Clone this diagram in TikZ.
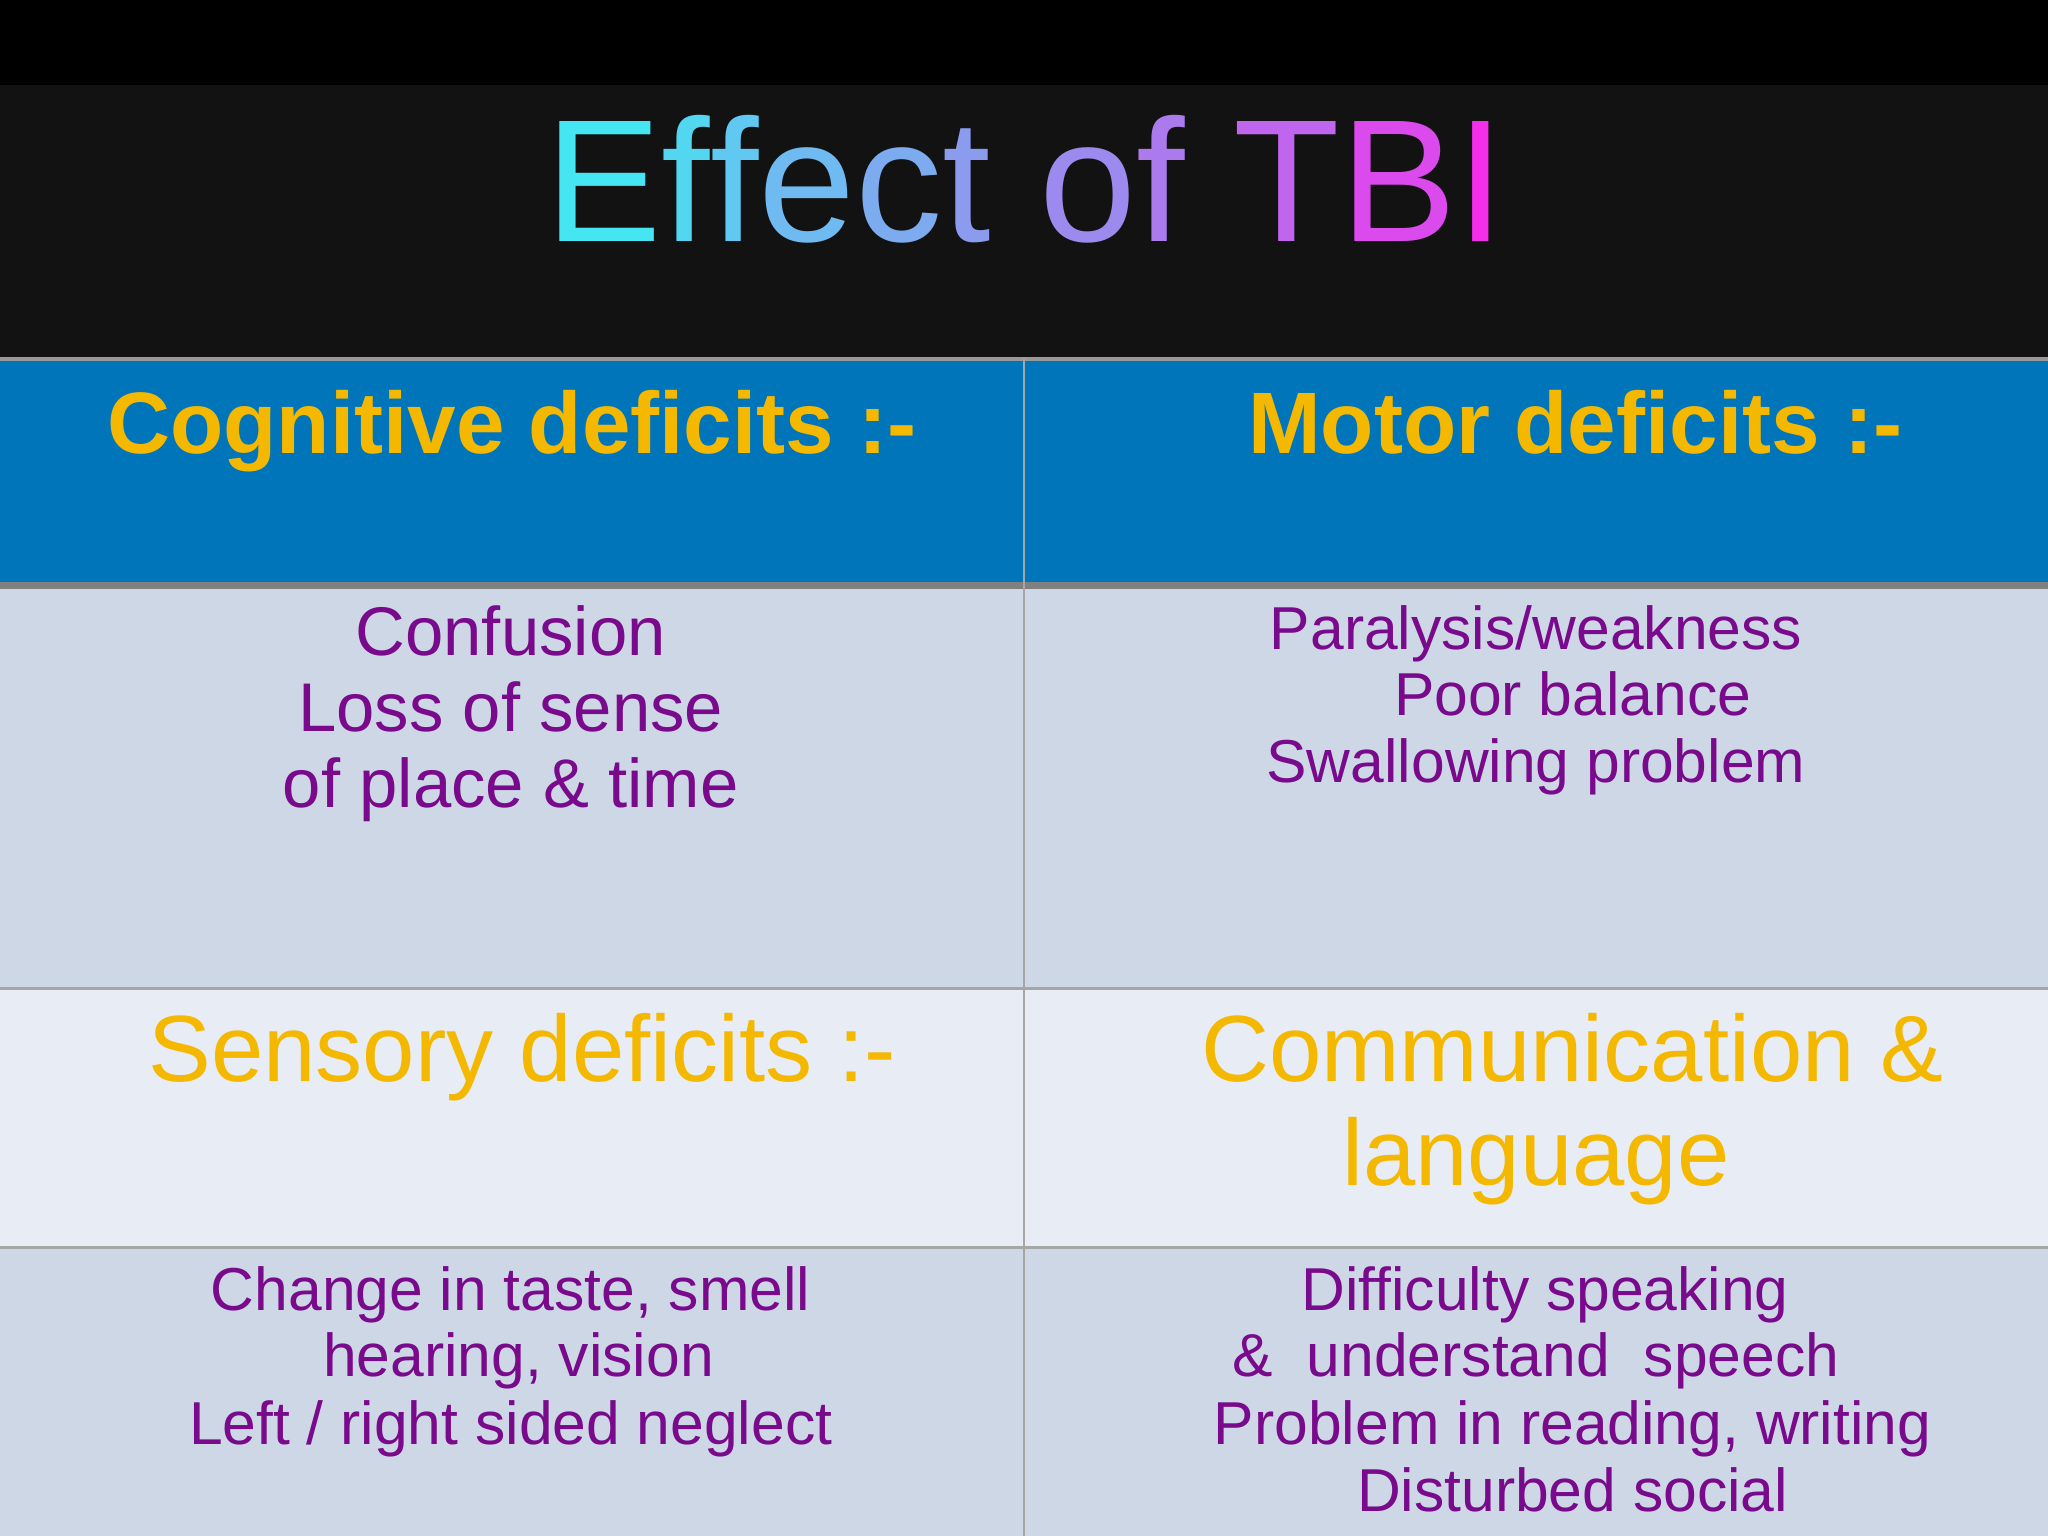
\documentclass[tikz,border=0pt]{standalone}
\usepackage{fontspec}
\setmainfont{Liberation Sans}
\definecolor{hdr}{HTML}{0075BA}
\definecolor{rowa}{HTML}{CDD7E6}
\definecolor{rowb}{HTML}{E8ECF4}
\definecolor{yel}{HTML}{F5B800}
\definecolor{pur}{HTML}{7A0A8C}
\definecolor{ca}{HTML}{45E6F2}
\definecolor{cb}{HTML}{F52EEB}
\newcommand{\gl}[2]{\textcolor{cb!#1!ca}{#2}}
\begin{document}
\begin{tikzpicture}[x=0.1mm,y=-0.1mm,
  hd/.style={anchor=base,text=yel,font=\fontsize{19}{22}\selectfont\bfseries,inner sep=0},
  sub/.style={anchor=base,text=yel,font=\fontsize{20.5}{24}\selectfont,inner sep=0},
  bodyA/.style={anchor=base,text=pur,font=\fontsize{15}{17}\selectfont,inner sep=0},
  bodyB/.style={anchor=base,text=pur,font=\fontsize{13.2}{15}\selectfont,inner sep=0}]
\useasboundingbox (0,0) rectangle (1568,1176);
\fill[black] (0,0) rectangle (1568,275);
\fill[black!93!white] (0,65) rectangle (1568,275);
\fill[hdr] (0,275) rectangle (1568,447);
\fill[rowa] (0,447) rectangle (1568,757);
\fill[rowb] (0,757) rectangle (1568,955);
\fill[rowa] (0,955) rectangle (1568,1176);
\draw[gray!80,line width=0.8pt] (0,275) -- (1568,275);
\draw[gray,line width=1.5pt] (0,448) -- (1568,448);
\draw[gray!70,line width=0.6pt] (0,757) -- (1568,757) (0,955) -- (1568,955);
\draw[gray!70,line width=0.6pt] (784,275) -- (784,1176);
\node (title) [anchor=base,inner sep=0,font=\fontsize{38}{44}\selectfont] at (785,185)
 {\gl{0}{E}\gl{8}{f}\gl{16}{f}\gl{24}{e}\gl{32}{c}\gl{40}{t} \gl{50}{o}\gl{58}{f} \gl{70}{T}\gl{85}{B}\gl{100}{I}};
\node (h1) [hd] at (392,347) {Cognitive deficits :-};
\node (h2) [hd] at (1206,347) {Motor deficits :-};
\node (a1) [bodyA] at (391,502) {Confusion};
\node (a2) [bodyA] at (391,560) {Loss of sense};
\node (a3) [bodyA] at (391,618) {of place \& time};
\node (b1) [bodyB] at (1176,497) {Paralysis/weakness};
\node (b2) [bodyB] at (1204,548) {Poor balance};
\node (b3) [bodyB] at (1176,599) {Swallowing problem};
\node (s1) [sub] at (400,828) {Sensory deficits :-};
\node (s2) [sub] at (1204,828) {Communication \&};
\node (s3) [sub] at (1176,908) {language};
\node (c1) [bodyB] at (391,1003) {Change in taste, smell};
\node (c2) [bodyB] at (397,1054) {hearing, vision};
\node (c3) [bodyB] at (391,1106) {Left / right sided neglect};
\node (d1) [bodyB] at (1183,1003) {Difficulty speaking};
\node (d2) [bodyB] at (1176,1054) {\&\ \ understand\ \ speech};
\node (d3) [bodyB] at (1204,1106) {Problem in reading, writing};
\node (d4) [bodyB] at (1204,1157) {Disturbed social};
\end{tikzpicture}
\end{document}
